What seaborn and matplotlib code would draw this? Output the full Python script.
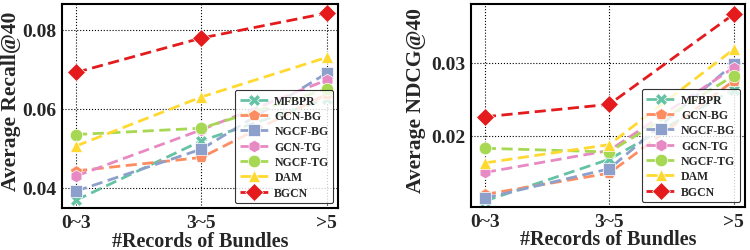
import matplotlib
matplotlib.use("Agg")
import matplotlib.pyplot as plt
import seaborn as sns
import pandas as pd

groups = ["0~3", "3~5", ">5"]
methods = ["MFBPR", "GCN-BG", "NGCF-BG", "GCN-TG", "NGCF-TG", "DAM", "BGCN"]

recall = {
    "MFBPR":   [0.0369, 0.0519, 0.0625],
    "GCN-BG":  [0.0443, 0.0477, 0.0637],
    "NGCF-BG": [0.0392, 0.0498, 0.0690],
    "GCN-TG":  [0.0430, 0.0547, 0.0673],
    "NGCF-TG": [0.0535, 0.0551, 0.0650],
    "DAM":     [0.0506, 0.0630, 0.0730],
    "BGCN":    [0.0692, 0.0779, 0.0842],
}
ndcg = {
    "MFBPR":   [0.0111, 0.0168, 0.0263],
    "GCN-BG":  [0.0120, 0.0149, 0.0275],
    "NGCF-BG": [0.0115, 0.0155, 0.0298],
    "GCN-TG":  [0.0150, 0.0180, 0.0293],
    "NGCF-TG": [0.0183, 0.0178, 0.0282],
    "DAM":     [0.0163, 0.0188, 0.0318],
    "BGCN":    [0.0226, 0.0243, 0.0366],
}

sns.set_theme(style="white")
plt.rcParams["font.family"] = ["Liberation Serif", "DejaVu Serif"]
plt.rcParams["font.weight"] = "bold"

set2 = sns.color_palette("Set2")
colors = {"MFBPR": set2[0], "GCN-BG": set2[1], "NGCF-BG": set2[2],
          "GCN-TG": set2[3], "NGCF-TG": set2[4], "DAM": set2[5], "BGCN": "#e41a1c"}
markers = {"MFBPR": "X", "GCN-BG": "p", "NGCF-BG": "s", "GCN-TG": "h",
           "NGCF-TG": "o", "DAM": "^", "BGCN": "D"}
dashes = {m: (4, 2) for m in methods}

def make_df(d):
    rows = []
    for m in methods:
        for i, g in enumerate(groups):
            rows.append({"method": m, "x": i, "value": d[m][i]})
    return pd.DataFrame(rows)

fig = plt.figure(figsize=(7.5, 2.51), dpi=100)
ax1 = fig.add_axes([0.0827, 0.167, 0.368, 0.813])
ax2 = fig.add_axes([0.628, 0.171, 0.365, 0.809])

specs = [
    (ax1, recall, "Average Recall@40", (0.0349, 0.0865), [0.04, 0.06, 0.08], ["0.04", "0.06", "0.08"], -0.150),
    (ax2, ndcg, "Average NDCG@40", (0.01027, 0.0380), [0.02, 0.03], ["0.02", "0.03"], -0.166),
]

for ax, data, ylabel, ylim, yt, ytl, ylx in specs:
    df = make_df(data)
    sns.lineplot(data=df, x="x", y="value", hue="method", style="method",
                 hue_order=methods, style_order=methods,
                 palette=colors, markers=markers, dashes=dashes,
                 markersize=9, linewidth=2, markeredgewidth=0.5,
                 ax=ax, legend=True)
    ax.set_xlim(-0.112, 2.09)
    ax.set_ylim(*ylim)
    ax.set_xticks(range(len(groups)))
    ax.set_xticklabels(groups, fontsize=14, fontweight="bold")
    ax.set_yticks(yt)
    ax.set_yticklabels(ytl, fontsize=14, fontweight="bold")
    ax.set_xlabel("#Records of Bundles", fontsize=14.5, fontweight="bold")
    ax.set_ylabel(ylabel, fontsize=15.5, fontweight="bold")
    ax.xaxis.set_label_coords(0.5, -0.11)
    ax.yaxis.set_label_coords(ylx, 0.53)
    ax.grid(True, color="black", linestyle=":", linewidth=0.8)
    for s in ax.spines.values():
        s.set_color("black")
        s.set_linewidth(1.5)
    ax.tick_params(axis="both", length=2, width=1, color="black", pad=2)
    leg = ax.legend(loc="lower right", prop={"size": 8.5, "weight": "bold"},
                    frameon=True, fancybox=True, edgecolor="black",
                    borderpad=0.4, labelspacing=0.28, handlelength=2.45,
                    handletextpad=0.5, borderaxespad=0.4)
    leg.get_frame().set_linewidth(0.8)

fig.savefig("out.png", dpi=100)
